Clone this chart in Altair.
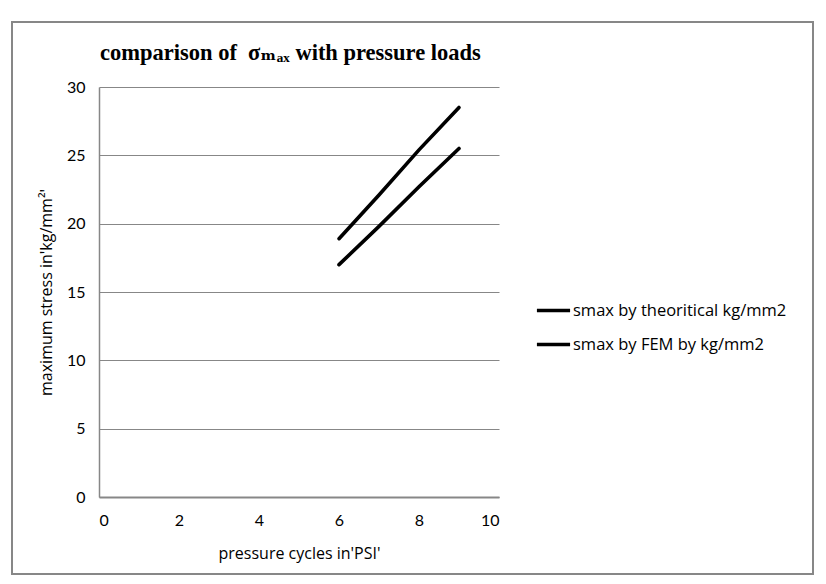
import altair as alt
import pandas as pd

cycles = [6, 7, 8, 9]
theoretical = [18.9, 22.1, 25.4, 28.5]
fem = [17.0, 19.8, 22.7, 25.5]
series_names = ["smax by theoritical kg/mm2", "smax by FEM by kg/mm2"]

rows = []
for x, v in zip(cycles, theoretical):
    rows.append({"x": x, "y": v, "series": series_names[0]})
for x, v in zip(cycles, fem):
    rows.append({"x": x, "y": v, "series": series_names[1]})
df = pd.DataFrame(rows)

GRAY = "#878787"
LABEL_FONT = "Lato"
TITLE_FONT = "Open Sans"

lines = alt.Chart(df).mark_line(strokeWidth=3.6, strokeCap="round").encode(
    x=alt.X("x:Q", scale=alt.Scale(domain=[0, 10]),
            axis=alt.Axis(values=[0, 2, 4, 6, 8, 10], title="pressure cycles in'PSI'",
                          grid=False, ticks=False, domainColor=GRAY, domainWidth=2,
                          labelPadding=15, titlePadding=17)),
    y=alt.Y("y:Q", scale=alt.Scale(domain=[0, 30]),
            axis=alt.Axis(values=[0, 5, 10, 15, 20, 25, 30], title="maximum stress in'kg/mm²'",
                          grid=True, gridColor=GRAY, gridWidth=1, ticks=False,
                          domainColor=GRAY, domainWidth=1.5, labelPadding=14, titlePadding=12)),
    color=alt.Color("series:N", scale=alt.Scale(domain=series_names, range=["black", "black"]),
                    legend=alt.Legend(title=None, orient="none", legendX=436, legendY=205,
                                      symbolType="stroke", symbolSize=1100,
                                      symbolStrokeWidth=3.5, labelFontSize=16.5,
                                      labelFont=TITLE_FONT, labelColor="black",
                                      labelLimit=400, rowPadding=7, labelOffset=1)),
)

frame = alt.Chart(pd.DataFrame({"a": [0]})).mark_rect(
    fill=None, stroke=GRAY, strokeWidth=2
).encode(x=alt.value(-87), x2=alt.value(714), y=alt.value(-65), y2=alt.value(487))

chart = alt.layer(frame, lines).properties(
    width=400, height=410,
    title=alt.Title("comparison of\u00a0\u00a0σₘₐₓ with pressure loads", anchor="start",
                    font="Liberation Serif, DejaVu Serif", fontSize=22.5, fontWeight="bold",
                    color="black", offset=-43, dx=89),
    autosize=alt.AutoSizeParams(type="none"),
    padding={"left": 91, "top": 79, "right": 319, "bottom": 79},
).configure_view(stroke=None).configure_axis(
    labelFont=LABEL_FONT, labelFontSize=16, labelColor="black",
    titleFont=TITLE_FONT, titleFontSize=16, titleColor="black", titleFontWeight="normal",
)

chart.save("out.html", embed_options={"renderer": "svg", "actions": False})
